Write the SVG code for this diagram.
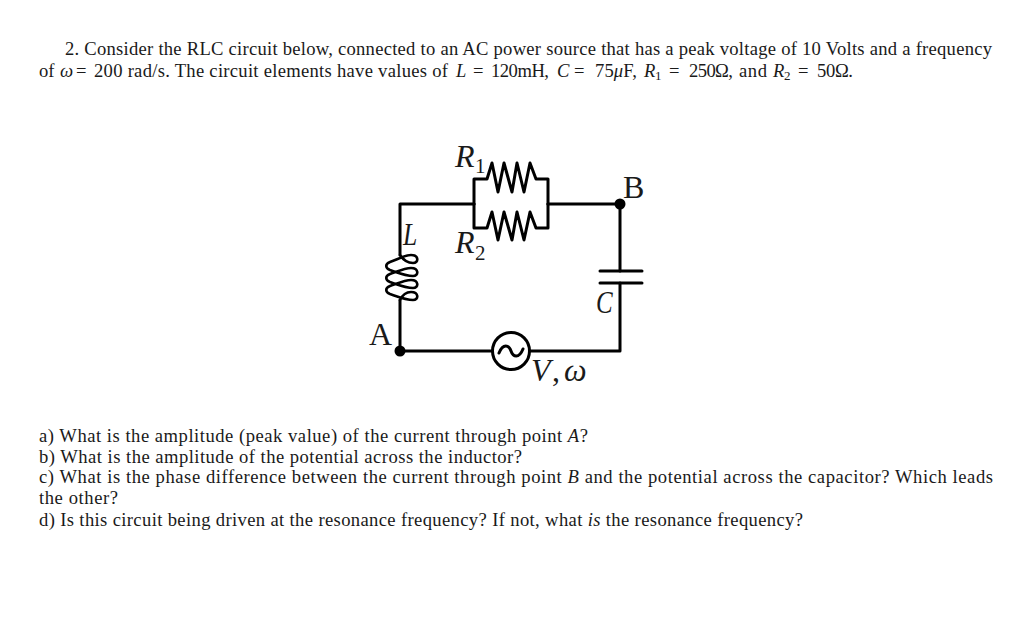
<svg xmlns="http://www.w3.org/2000/svg" width="1024" height="639" viewBox="0 0 1024 639">
<style>
.t{font-family:"Liberation Serif","Times New Roman",serif;font-size:18.6px;fill:#1a1a1a}
.i{font-style:italic}
.s{font-size:13px}
.d{font-family:"Liberation Serif","Times New Roman",serif;fill:#1a1a1a;font-size:32px}
.u{font-size:21px}
.m{font-style:italic}
.w{fill:none;stroke:#000;stroke-width:3;stroke-linejoin:round;stroke-linecap:round}
.p{fill:#000}
</style>
<rect width="1024" height="639" fill="#fff"/>
<g id="question-text">
<text class="t" x="65" y="55" textLength="927" lengthAdjust="spacing">2. Consider the RLC circuit below, connected to an AC power source that has a peak voltage of 10 Volts and a frequency</text>
<text class="t" x="39" y="77">of</text>
<text class="t i" x="60" y="77">ω</text>
<text class="t" x="76" y="77">=</text>
<text class="t" x="94" y="77" textLength="354" lengthAdjust="spacing">200 rad/s. The circuit elements have values of</text>
<text class="t i" x="456" y="77">L</text>
<text class="t" x="473" y="77">=</text>
<text class="t" x="491" y="77" textLength="58" lengthAdjust="spacing">120mH,</text>
<text class="t i" x="557" y="77">C</text>
<text class="t" x="574" y="77">=</text>
<text class="t" x="595" y="77" textLength="42" lengthAdjust="spacing">75<tspan class="i">μ</tspan>F,</text>
<text class="t i" x="644" y="77">R</text>
<text class="t s" x="655" y="80">1</text>
<text class="t" x="669" y="77">=</text>
<text class="t" x="689" y="77" textLength="44" lengthAdjust="spacing">250Ω,</text>
<text class="t" x="739" y="77" textLength="28" lengthAdjust="spacing">and</text>
<text class="t i" x="773" y="77">R</text>
<text class="t s" x="784" y="80">2</text>
<text class="t" x="798" y="77">=</text>
<text class="t" x="817" y="77" textLength="36" lengthAdjust="spacing">50Ω.</text>
<text class="t" x="39" y="442" textLength="549" lengthAdjust="spacing">a) What is the amplitude (peak value) of the current through point <tspan class="i">A</tspan>?</text>
<text class="t" x="39" y="463" textLength="483" lengthAdjust="spacing">b) What is the amplitude of the potential across the inductor?</text>
<text class="t" x="39" y="483" textLength="954" lengthAdjust="spacing">c) What is the phase difference between the current through point <tspan class="i">B</tspan> and the potential across the capacitor? Which leads</text>
<text class="t" x="39" y="504" textLength="79" lengthAdjust="spacing">the other?</text>
<text class="t" x="39" y="526" textLength="764" lengthAdjust="spacing">d) Is this circuit being driven at the resonance frequency? If not, what <tspan class="i">is</tspan> the resonance frequency?</text>
</g>
<g id="connectors">
<path class="w" d="M474 204H400V255M400 300V351H492M530 351H620V283M620 271V204H548"/>
</g>
<g id="R1">
<path class="w" d="M474 204V179H487L492 163L498 192L504 163L512 192L517 163L524 192L530 163L536 179H548V204"/>
<text class="d m" x="455" y="167">R</text><text class="d u" x="475" y="173">1</text>
</g>
<g id="R2">
<path class="w" d="M474 204V228H487L492 212L498 240L504 212L512 240L517 212L524 240L530 212L536 228H548V204"/>
<text class="d m" x="455" y="253">R</text><text class="d u" x="475" y="260">2</text>
</g>
<g id="L">
<path class="w" style="stroke-width:2.6" d="M400 255C402 258 406 263 413 263C419 263 419 255 411 255C405 255 396 260 390 262C385 264 385 268 390 270C396 272 406 276 413 276C419 276 419 268 411 268C405 268 396 272 390 274C385 276 385 280 390 282C396 284 406 288 413 288C419 288 419 280 411 280C405 280 396 284 390 286C385 288 385 292 390 294C396 296 406 300 413 300C419 300 419 292 411 292C405 292 402 296 400 300"/>
<text class="d m" transform="translate(403 245) scale(.8 1)">L</text>
</g>
<g id="C">
<path class="w" d="M600 271H642M600 283H642"/>
<text class="d m" transform="translate(596 313) scale(.78 1)">C</text>
</g>
<g id="source">
<circle class="w" cx="511" cy="351" r="18.5"/>
<path class="w" d="M499 353C503 343 509 345 511 351C513 357 519 359 523 349"/>
<text class="d m" x="531" y="381">V</text><text class="d" x="552" y="381">,</text><text class="d m" x="564" y="381">ω</text>
</g>
<g id="A">
<circle class="p" cx="400" cy="351" r="5.5"/>
<text class="d" x="369" y="345">A</text>
</g>
<g id="B">
<circle class="p" cx="620" cy="204" r="5.5"/>
<text class="d" x="623" y="198">B</text>
</g>
</svg>
